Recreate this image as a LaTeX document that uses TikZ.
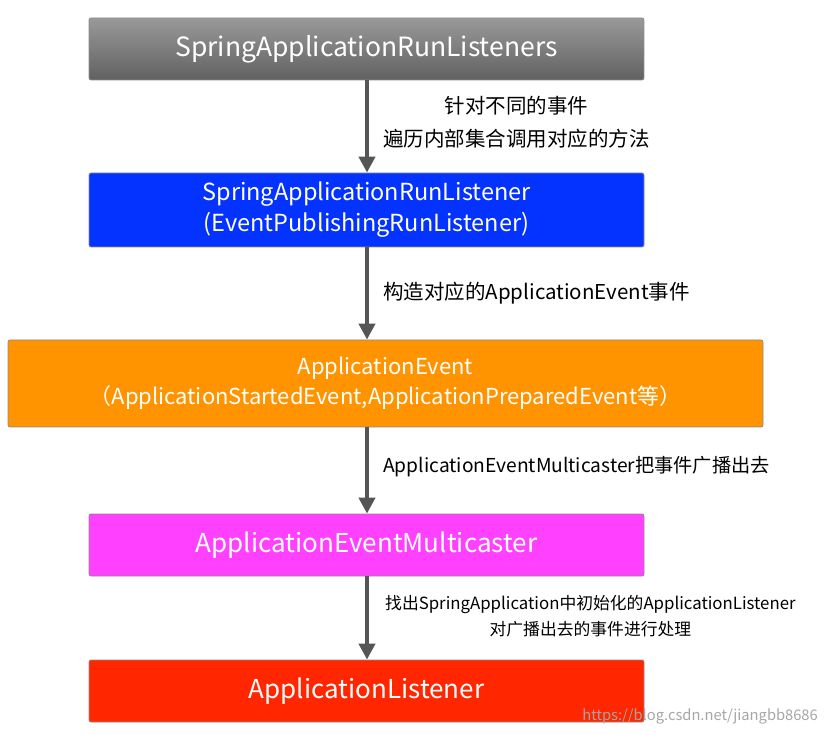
\documentclass[tikz,border=0pt]{standalone}
\usepackage{fontspec}
\setmainfont{Noto Sans CJK SC}
\usetikzlibrary{arrows.meta}
\definecolor{cgray}{HTML}{7A7A7A}
\definecolor{cblue}{HTML}{0433FF}
\definecolor{corange}{HTML}{FF9300}
\definecolor{cpink}{HTML}{FF40FF}
\definecolor{cred}{HTML}{FF2600}
\definecolor{carrow}{HTML}{555555}
\begin{document}
\begin{tikzpicture}[x=1pt,y=-1pt,
  box/.style={draw=black!45,line width=0.8pt,rounded corners=2pt,text=white,align=center,inner sep=0pt},
  flow/.style={draw=carrow,line width=4pt,-{Triangle[length=16pt,width=16pt]}},
  lbl/.style={font=\fontsize{17}{33}\selectfont,align=left,inner sep=0pt}]
\useasboundingbox (0,0) rectangle (828,735);
\node[box,minimum width=555pt,minimum height=62pt,top color=black!40,bottom color=black!62,
  font=\fontsize{26.5}{30}\selectfont] (a) at (366.5,49) {SpringApplicationRunListeners};
\node[box,fill=cblue,minimum width=555pt,minimum height=74pt,font=\fontsize{23.5}{31}\selectfont]
  (b) at (366.5,210) {SpringApplicationRunListener\\(EventPublishingRunListener)};
\node[box,fill=corange,minimum width=755pt,minimum height=87pt,font=\fontsize{22}{30}\selectfont]
  (c) at (385.5,383.5) {ApplicationEvent\\（ApplicationStartedEvent,ApplicationPreparedEvent等）};
\node[box,fill=cpink,minimum width=555pt,minimum height=62pt,font=\fontsize{26}{30}\selectfont]
  (d) at (366.5,545) {ApplicationEventMulticaster};
\node[box,fill=cred,minimum width=555pt,minimum height=62pt,font=\fontsize{26}{30}\selectfont]
  (e) at (366.5,691) {ApplicationListener};
\draw[flow] (a.south -| 367,0) -- (b.north -| 367,0);
\draw[flow] (b.south -| 367,0) -- (c.north -| 367,0);
\draw[flow] (c.south -| 367,0) -- (d.north -| 367,0);
\draw[flow] (d.south -| 367,0) -- (e.north -| 367,0);
\node[lbl,font=\fontsize{20.5}{33}\selectfont,align=center,anchor=north west] (l1) at (383,96) {针对不同的事件\\遍历内部集合调用对应的方法};
\node[lbl,font=\fontsize{20.5}{26}\selectfont,anchor=west] (l2) at (383,293) {构造对应的ApplicationEvent事件};
\node[lbl,font=\fontsize{19.2}{26}\selectfont,anchor=west] (l3) at (383,467) {ApplicationEventMulticaster把事件广播出去};
\node[lbl,font=\fontsize{16.8}{26}\selectfont,align=center,anchor=north west] (l4) at (385,595) {找出SpringApplication中初始化的ApplicationListener\\对广播出去的事件进行处理};
\node[font=\fontsize{14.7}{16}\selectfont,text=black!35,anchor=east,inner sep=0pt] (w) at (818,716) {https://blog.csdn.net/jiangbb8686};
\end{tikzpicture}
\end{document}
